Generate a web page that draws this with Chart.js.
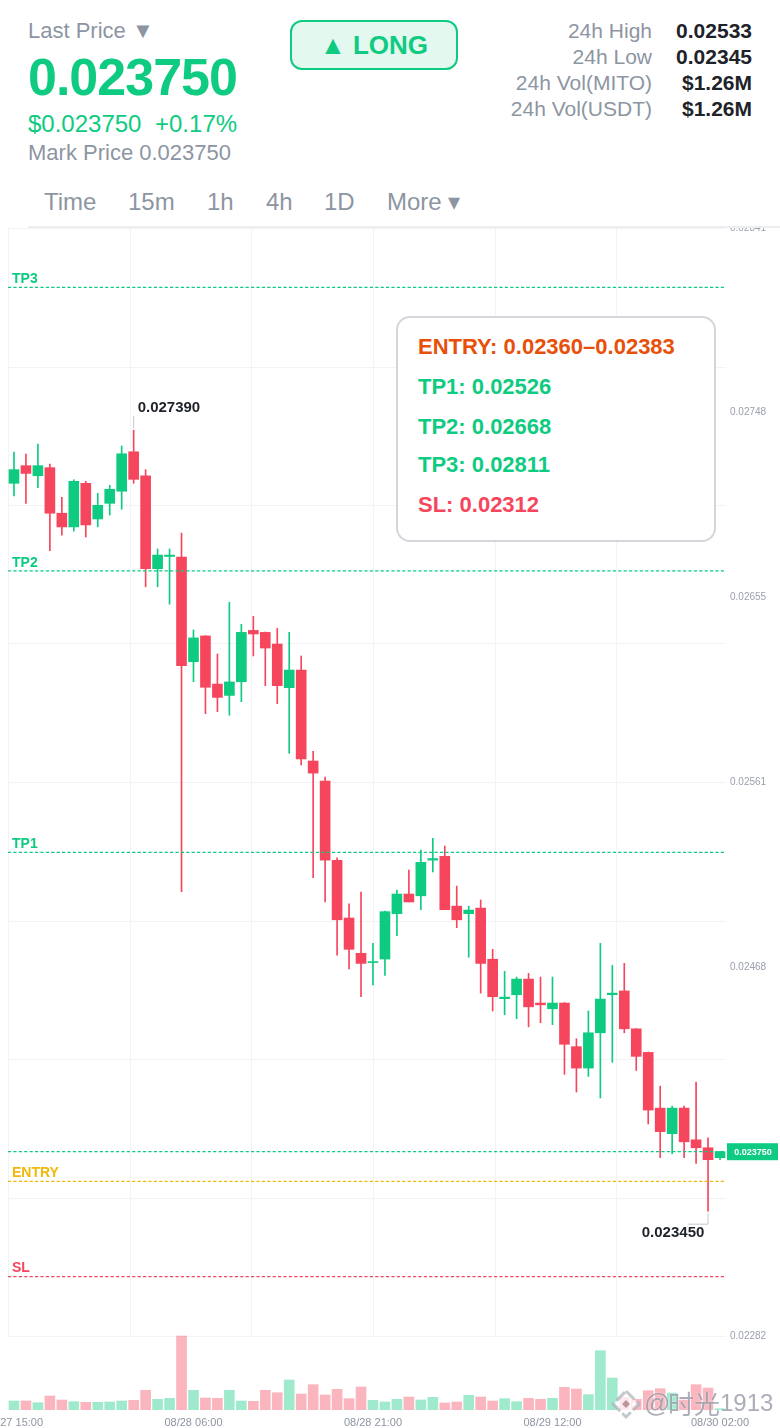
<!DOCTYPE html>
<html lang="en">

<head>
    <meta charset="UTF-8">
    <title>MITO/USDT 1h</title>
    <script src="https://cdn.jsdelivr.net/npm/chart.js@4/dist/chart.umd.min.js"></script>
    <style>
        html, body { margin: 0; padding: 0; background: #fff; }
        body { position: relative; width: 780px; height: 1428px; overflow: hidden; font-family: "Liberation Sans", Arial, sans-serif; }
        .t { position: absolute; white-space: nowrap; line-height: 26px; }
        .gray { color: #8d95a2; }
        .green { color: #0ecb81; }
        .dark { color: #1e2329; font-weight: bold; }
        .stat { font-size: 21px; }
        .head { font-size: 22px; }
        .tab { font-size: 24px; top: 189px; color: #8d95a2; }
        .info { font-size: 22px; font-weight: bold; left: 418px; }
        #long { position: absolute; left: 290px; top: 20px; width: 164px; height: 46px; border: 2px solid #0ecb81; border-radius: 12px; background: #e3f8ef; color: #0ecb81; font-size: 26px; font-weight: bold; text-align: center; line-height: 47px; }
        #rule { position: absolute; left: 28px; top: 226px; width: 752px; height: 2px; background: #eceef0; }
        #chart { position: absolute; left: 0; top: 228px; }
        #box { position: absolute; left: 396px; top: 316px; width: 316px; height: 222px; border: 2px solid #d3d7dc; border-radius: 14px; background: #fff; }
        #mark { position: absolute; left: 610px; top: 1386px; width: 170px; height: 36px; color: rgba(120, 125, 140, .62); text-shadow: 0 0 2px rgba(255,255,255,.8); white-space: nowrap; }
        #mark span { position: absolute; top: 0; line-height: 34px; font-size: 26px; }
    </style>
</head>

<body>
    <div class="t gray head" style="left:28px;top:18px">Last Price ▼</div>
    <div class="t green" style="left:28px;top:52px;font-size:52px;font-weight:bold;letter-spacing:-1px;line-height:50px">0.023750</div>
    <div class="t green" style="left:28px;top:111px;font-size:24px">$0.023750</div>
    <div class="t green" style="left:155px;top:111px;font-size:24px">+0.17%</div>
    <div class="t gray head" style="left:28px;top:140px">Mark Price 0.023750</div>
    <div id="long">▲ LONG</div>

    <div class="t gray stat" style="right:128px;top:18px">24h High</div>
    <div class="t dark stat" style="right:28px;top:18px">0.02533</div>
    <div class="t gray stat" style="right:128px;top:44px">24h Low</div>
    <div class="t dark stat" style="right:28px;top:44px">0.02345</div>
    <div class="t gray stat" style="right:128px;top:70px">24h Vol(MITO)</div>
    <div class="t dark stat" style="right:28px;top:70px">$1.26M</div>
    <div class="t gray stat" style="right:128px;top:96px">24h Vol(USDT)</div>
    <div class="t dark stat" style="right:28px;top:96px">$1.26M</div>

    <div class="t tab" style="left:44px">Time</div>
    <div class="t tab" style="left:128px">15m</div>
    <div class="t tab" style="left:207px">1h</div>
    <div class="t tab" style="left:266px">4h</div>
    <div class="t tab" style="left:324px">1D</div>
    <div class="t tab" style="left:387px">More ▾</div>
    <div id="rule"></div>

    <canvas id="chart" width="780" height="1200"></canvas>

    <div id="box"></div>
    <div class="t info" style="top:334px;color:#e8500a">ENTRY: 0.02360–0.02383</div>
    <div class="t info green" style="top:374px">TP1: 0.02526</div>
    <div class="t info green" style="top:414px">TP2: 0.02668</div>
    <div class="t info green" style="top:452px">TP3: 0.02811</div>
    <div class="t info" style="top:492px;color:#f6465d">SL: 0.02312</div>

    <div id="mark">
        <svg style="position:absolute;left:0;top:2px" width="32" height="32" viewBox="0 0 32 32">
            <path d="M16 3 L29 16 L16 29 L3 16 Z" fill="rgba(255,255,255,.7)" stroke="rgba(170,175,185,.7)" stroke-width="3" stroke-dasharray="12 3"/>
            <path d="M16 12 L20 16 L16 20 L12 16 Z" fill="rgba(170,130,135,.8)"/>
            <path d="M6 16 L8 14 L10 16 L8 18 Z M22 16 L24 14 L26 16 L24 18 Z" fill="#fff"/>
        </svg>
        <span style="left:34px;font-family:'Liberation Sans'">@</span>
        <span style="left:58px;font-family:'Noto Sans CJK SC'">时光</span>
        <span style="left:110px;font-family:'Liberation Sans';font-size:24px">1913</span>
    </div>

    <script>
        const categories = [
            '08/27 15:00', '08/27 16:00', '08/27 17:00', '08/27 18:00', '08/27 19:00', '08/27 20:00', '08/27 21:00', '08/27 22:00', '08/27 23:00',
            '08/28 00:00', '08/28 01:00', '08/28 02:00', '08/28 03:00', '08/28 04:00', '08/28 05:00', '08/28 06:00', '08/28 07:00', '08/28 08:00',
            '08/28 09:00', '08/28 10:00', '08/28 11:00', '08/28 12:00', '08/28 13:00', '08/28 14:00', '08/28 15:00', '08/28 16:00', '08/28 17:00',
            '08/28 18:00', '08/28 19:00', '08/28 20:00', '08/28 21:00', '08/28 22:00', '08/28 23:00', '08/29 00:00', '08/29 01:00', '08/29 02:00',
            '08/29 03:00', '08/29 04:00', '08/29 05:00', '08/29 06:00', '08/29 07:00', '08/29 08:00', '08/29 09:00', '08/29 10:00', '08/29 11:00',
            '08/29 12:00', '08/29 13:00', '08/29 14:00', '08/29 15:00', '08/29 16:00', '08/29 17:00', '08/29 18:00', '08/29 19:00', '08/29 20:00',
            '08/29 21:00', '08/29 22:00', '08/29 23:00', '08/30 00:00', '08/30 01:00', '08/30 02:00'
        ];
        const xTickLabels = ['08/27 15:00', '08/28 06:00', '08/28 21:00', '08/29 12:00', '08/30 02:00'];
        // the axis steps are not round numbers, the labels only show 5 decimals
        const yTickValues = [0.02282, 0.024682, 0.025614, 0.026546, 0.027478, 0.02841];

        const opens = [
            0.027122, 0.027211, 0.027160, 0.027201, 0.026971, 0.026902, 0.027122, 0.026942, 0.027021, 0.027082,
            0.027281, 0.027160, 0.026691, 0.026753, 0.026750, 0.026222, 0.026352, 0.026109, 0.026052, 0.026121,
            0.026380, 0.026370, 0.026311, 0.026091, 0.026180, 0.025721, 0.025620, 0.025220, 0.024929, 0.024751,
            0.024704, 0.024722, 0.024951, 0.025050, 0.025041, 0.025221, 0.025240, 0.024989, 0.024951, 0.024979,
            0.024721, 0.024522, 0.024542, 0.024621, 0.024500, 0.024471, 0.024500, 0.024280, 0.024172, 0.024350,
            0.024542, 0.024561, 0.024370, 0.024251, 0.023970, 0.023841, 0.023970, 0.023810, 0.023770, 0.023720
        ];
        const highs = [
            0.027280, 0.027270, 0.027320, 0.027219, 0.027051, 0.027140, 0.027132, 0.027072, 0.027112, 0.027310,
            0.027390, 0.027191, 0.026791, 0.026791, 0.026871, 0.026382, 0.026354, 0.026261, 0.026522, 0.026411,
            0.026451, 0.026372, 0.026390, 0.026370, 0.026251, 0.025770, 0.025640, 0.025232, 0.025000, 0.025060,
            0.024801, 0.024964, 0.025070, 0.025171, 0.025272, 0.025331, 0.025292, 0.025090, 0.024989, 0.025020,
            0.024771, 0.024660, 0.024631, 0.024650, 0.024631, 0.024631, 0.024502, 0.024320, 0.024460, 0.024801,
            0.024690, 0.024700, 0.024371, 0.024253, 0.024081, 0.023980, 0.023980, 0.024101, 0.023820, 0.023751
        ];
        const lows = [
            0.027059, 0.027021, 0.027100, 0.026782, 0.026861, 0.026881, 0.026851, 0.026902, 0.026962, 0.026991,
            0.027122, 0.026600, 0.026600, 0.026512, 0.025062, 0.026121, 0.025960, 0.025970, 0.025952, 0.026020,
            0.026251, 0.026101, 0.026010, 0.025760, 0.025701, 0.025132, 0.025010, 0.024741, 0.024672, 0.024532,
            0.024591, 0.024640, 0.024840, 0.025010, 0.024971, 0.025161, 0.024971, 0.024880, 0.024731, 0.024550,
            0.024460, 0.024441, 0.024421, 0.024380, 0.024401, 0.024391, 0.024140, 0.024051, 0.024130, 0.024021,
            0.024201, 0.024350, 0.024160, 0.023890, 0.023720, 0.023740, 0.023720, 0.023691, 0.023450, 0.023710
        ];
        const closes = [
            0.027191, 0.027172, 0.027211, 0.026971, 0.026902, 0.027132, 0.026912, 0.027011, 0.027092, 0.027271,
            0.027142, 0.026691, 0.026760, 0.026760, 0.026202, 0.026342, 0.026093, 0.026042, 0.026120, 0.026370,
            0.026362, 0.026291, 0.026101, 0.026180, 0.025731, 0.025660, 0.025221, 0.024920, 0.024771, 0.024700,
            0.024709, 0.024961, 0.025050, 0.025010, 0.025210, 0.025229, 0.024971, 0.024920, 0.024969, 0.024700,
            0.024532, 0.024530, 0.024621, 0.024481, 0.024491, 0.024500, 0.024292, 0.024172, 0.024350, 0.024520,
            0.024550, 0.024370, 0.024231, 0.023960, 0.023851, 0.023970, 0.023800, 0.023770, 0.023710, 0.023750
        ];
        const volumes = [
            27, 27, 22, 42, 30, 25, 23, 23, 24, 27,
            29, 59, 32, 35, 222, 59, 36, 35, 59, 27,
            26, 59, 52, 90, 48, 76, 45, 62, 34, 69,
            29, 24, 32, 39, 30, 38, 21, 24, 44, 39,
            27, 34, 25, 35, 32, 35, 68, 63, 46, 178,
            96, 38, 32, 58, 64, 51, 30, 76, 66, 4
        ];

        const levelNames = ['TP3', 'TP2', 'TP1', 'ENTRY', 'SL'];
        const levelPrices = [0.02811, 0.02668, 0.02526, 0.02360, 0.02312];
        const levelColors = ['#0ecb81', '#0ecb81', '#0ecb81', '#f0b90b', '#f6465d'];
        const lastPrice = 0.02375;

        const GREEN = '#0ecb81';
        const RED = '#f6465d';
        const isUp = closes.map((c, i) => c >= opens[i]);
        const candleColors = isUp.map(up => up ? GREEN : RED);
        const volumeColors = isUp.map(up => up ? 'rgba(14,203,129,.4)' : 'rgba(246,70,93,.4)');

        // grid is not lined up with the ticks, so keep it separate
        const gridFractions = [0, 0.1693, 0.3384, 0.5084, 0.6776, 0.8473];
        const gridPrices = [0.02841, 0.027711, 0.027013, 0.026314, 0.025615, 0.024916, 0.024218, 0.023519, 0.02282];

        function flatLine(value, color) {
            return {
                type: 'line', xAxisID: 'xFrac', yAxisID: 'y', order: 0,
                data: [{ x: 0, y: value }, { x: 1, y: value }],
                borderColor: color, borderWidth: 1.3, borderDash: [3.2, 2.2], pointRadius: 0, clip: false
            };
        }

        const paneGrid = {
            id: 'paneGrid',
            beforeDatasetsDraw(chart) {
                const { ctx, chartArea, scales } = chart;
                const bottom = Math.round(scales.y.getPixelForValue(gridPrices[gridPrices.length - 1]));
                ctx.save();
                ctx.strokeStyle = '#f2f3f5';
                ctx.lineWidth = 1;
                ctx.beginPath();
                gridFractions.forEach(f => {
                    const x = Math.round(scales.xFrac.getPixelForValue(f)) + 0.5;
                    ctx.moveTo(x, chartArea.top);
                    ctx.lineTo(x, bottom);
                });
                gridPrices.forEach(p => {
                    const y = Math.round(scales.y.getPixelForValue(p)) + 0.5;
                    ctx.moveTo(chartArea.left, y);
                    ctx.lineTo(chartArea.right, y);
                });
                ctx.stroke();
                ctx.restore();
            }
        };

        const overlays = {
            id: 'overlays',
            afterDatasetsDraw(chart) {
                const { ctx, chartArea, scales } = chart;
                ctx.save();
                ctx.textBaseline = 'middle';

                // TP / ENTRY / SL names
                ctx.font = 'bold 14px "Liberation Sans"';
                levelNames.forEach((name, i) => {
                    ctx.fillStyle = levelColors[i];
                    ctx.fillText(name, 12, scales.y.getPixelForValue(levelPrices[i]) - 8);
                });

                // high and low of the visible range
                const hiX = scales.x.getPixelForValue(highs.indexOf(Math.max(...highs)));
                const hiY = scales.y.getPixelForValue(Math.max(...highs));
                const loX = scales.x.getPixelForValue(lows.indexOf(Math.min(...lows)));
                const loY = scales.y.getPixelForValue(Math.min(...lows));
                ctx.strokeStyle = '#c3c8cf';
                ctx.lineWidth = 1;
                ctx.beginPath();
                ctx.moveTo(hiX, hiY - 2);
                ctx.lineTo(hiX, hiY - 14);
                ctx.moveTo(loX, loY + 2);
                ctx.lineTo(loX, loY + 13);
                ctx.lineTo(loX - 20, loY + 13);
                ctx.stroke();
                ctx.fillStyle = '#1e2329';
                ctx.font = 'bold 15px "Liberation Sans"';
                ctx.textAlign = 'left';
                ctx.fillText(Math.max(...highs).toFixed(6), hiX + 4, hiY - 22);
                ctx.textAlign = 'center';
                ctx.fillText(Math.min(...lows).toFixed(6), loX - 35, loY + 22);

                // last price tag on the axis
                const tagY = scales.y.getPixelForValue(lastPrice);
                ctx.fillStyle = GREEN;
                ctx.fillRect(chartArea.right + 1, tagY - 8.5, 51, 17);
                ctx.fillStyle = '#fff';
                ctx.font = 'bold 9px "Liberation Sans"';
                ctx.fillText(lastPrice.toFixed(6), chartArea.right + 27, tagY + 0.5);
                ctx.restore();
            }
        };

        new Chart(document.getElementById('chart').getContext('2d'), {
            type: 'bar',
            data: {
                labels: categories,
                datasets: [
                    ...levelPrices.map((p, i) => flatLine(p, levelColors[i])),
                    flatLine(lastPrice, GREEN),
                    { data: opens.map((o, i) => [o, closes[i]]), backgroundColor: candleColors, barThickness: 10, grouped: false, order: 1, yAxisID: 'y' },
                    { data: lows.map((l, i) => [l, highs[i]]), backgroundColor: candleColors, barThickness: 1, grouped: false, order: 2, yAxisID: 'y' },
                    { data: volumes, backgroundColor: volumeColors, barThickness: 10, grouped: false, order: 3, yAxisID: 'yVol' }
                ]
            },
            options: {
                responsive: false,
                animation: false,
                events: [],
                layout: { autoPadding: false, padding: { left: 8, right: 0, top: 0, bottom: 0 } },
                plugins: { legend: { display: false }, tooltip: { enabled: false } },
                scales: {
                    x: {
                        grid: { display: false, drawTicks: false },
                        border: { display: false },
                        afterFit(scale) {
                            scale.height = 18;
                            scale.paddingLeft = 0;
                            scale.paddingRight = 0;
                        },
                        ticks: {
                            autoSkip: false, maxRotation: 0, minRotation: 0, padding: 6,
                            color: '#8d95a2', font: { family: 'Liberation Sans', size: 11 },
                            callback(value) {
                                const label = this.getLabelForValue(value);
                                return xTickLabels.includes(label) ? label : '';
                            }
                        }
                    },
                    xFrac: { type: 'linear', display: false, offset: false, min: 0, max: 1 },
                    y: {
                        position: 'right',
                        min: 0.022447,
                        max: 0.02841,
                        grid: { display: false, drawTicks: false },
                        border: { display: false },
                        afterBuildTicks(scale) { scale.ticks = yTickValues.map(value => ({ value })); },
                        afterFit(scale) {
                            scale.width = 54;
                            scale.paddingTop = 0;
                            scale.paddingBottom = 0;
                        },
                        ticks: {
                            padding: 4,
                            color: '#9aa1ad', font: { family: 'Liberation Sans', size: 10 },
                            callback(value) { return value.toFixed(5); }
                        }
                    },
                    yVol: { display: false, min: 0, max: 3546 }
                }
            },
            plugins: [paneGrid, overlays]
        });
    </script>
</body>

</html>
